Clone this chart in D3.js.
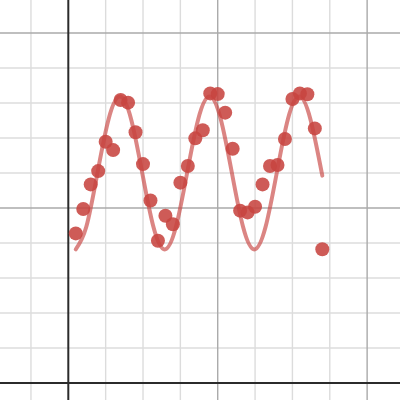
<!DOCTYPE html>
<html>
<head>
<meta charset="utf-8">
<script src="https://cdn.jsdelivr.net/npm/d3@7"></script>
<style>
html,body{margin:0;padding:0;background:#fff;overflow:hidden;}
svg{display:block;}
</style>
</head>
<body>
<svg id="chart" width="400" height="400"></svg>
<script>
// Observed data points (x = index, y = value)
const pointX = [1,2,3,4,5,6,7,8,9,10,11,12,13,14,15,16,17,18,19,20,21,22,23,24,25,26,27,28,29,30,31,32,33,34];
const pointY = [8.55,9.94,11.35,12.11,13.79,13.31,16.17,16.02,14.33,12.51,10.43,8.13,9.56,9.07,11.45,12.4,13.98,14.44,16.55,16.51,15.45,13.39,9.85,9.75,10.07,11.35,12.4,12.46,13.94,16.23,16.55,16.5,14.55,7.64];

// Fitted curve at key positions
const curveX = [1,2.4,3.9,5.4,6.9,8.4,9.9,11.4,12.9,14.4,15.9,17.4,18.9,20.4,21.9,23.4,24.9,26.4,27.9,29.4,30.9,32.4,34];
const curveY = [7.64,8.91,12,15.09,16.37,15.09,12,8.91,7.63,8.91,12,15.09,16.37,15.09,12,8.91,7.63,8.91,12,15.09,16.37,15.09,11.85];

// Grid lines
const xMinorTicks = [-5,5,10,15,25,30,35];
const xMajorTicks = [20,40];
const yMinorTicks = [2,4,6,8,12,14,16,18];
const yMajorTicks = [10,20];

const W = 400, H = 400;
const x = d3.scaleLinear().domain([-9.143, 44.40]).range([0, W]);
const y = d3.scaleLinear().domain([-0.971, 21.886]).range([H, 0]);

const svg = d3.select("#chart");

const g = svg.append("g");

// minor grid
g.selectAll(".vx").data(xMinorTicks).enter().append("line")
  .attr("x1", d => x(d)).attr("x2", d => x(d)).attr("y1", 0).attr("y2", H)
  .attr("stroke", "#dcdcdc").attr("stroke-width", 1.4);
g.selectAll(".hy").data(yMinorTicks).enter().append("line")
  .attr("y1", d => y(d)).attr("y2", d => y(d)).attr("x1", 0).attr("x2", W)
  .attr("stroke", "#dcdcdc").attr("stroke-width", 1.4);

// major grid
g.selectAll(".vX").data(xMajorTicks).enter().append("line")
  .attr("x1", d => x(d)).attr("x2", d => x(d)).attr("y1", 0).attr("y2", H)
  .attr("stroke", "#aaaaaa").attr("stroke-width", 1.4);
g.selectAll(".hY").data(yMajorTicks).enter().append("line")
  .attr("y1", d => y(d)).attr("y2", d => y(d)).attr("x1", 0).attr("x2", W)
  .attr("stroke", "#aaaaaa").attr("stroke-width", 1.4);

// axes
g.append("line").attr("x1", x(0)).attr("x2", x(0)).attr("y1", 0).attr("y2", H)
  .attr("stroke", "#2b2b2b").attr("stroke-width", 2);
g.append("line").attr("y1", y(0)).attr("y2", y(0)).attr("x1", 0).attr("x2", W)
  .attr("stroke", "#2b2b2b").attr("stroke-width", 2);

// curve
const curveData = curveX.map((d, i) => [d, curveY[i]]);
svg.append("path")
  .datum(curveData)
  .attr("d", d3.line().x(d => x(d[0])).y(d => y(d[1])).curve(d3.curveNatural))
  .attr("fill", "none")
  .attr("stroke", "#c74440")
  .attr("stroke-opacity", 0.65)
  .attr("stroke-width", 4)
  .attr("stroke-linecap", "round");

// points
const pts = pointX.map((d, i) => [d, pointY[i]]);
svg.selectAll("circle").data(pts).enter().append("circle")
  .attr("cx", d => x(d[0]))
  .attr("cy", d => y(d[1]))
  .attr("r", 7)
  .attr("fill", "#c74440")
  .attr("fill-opacity", 0.88);
</script>
</body>
</html>
